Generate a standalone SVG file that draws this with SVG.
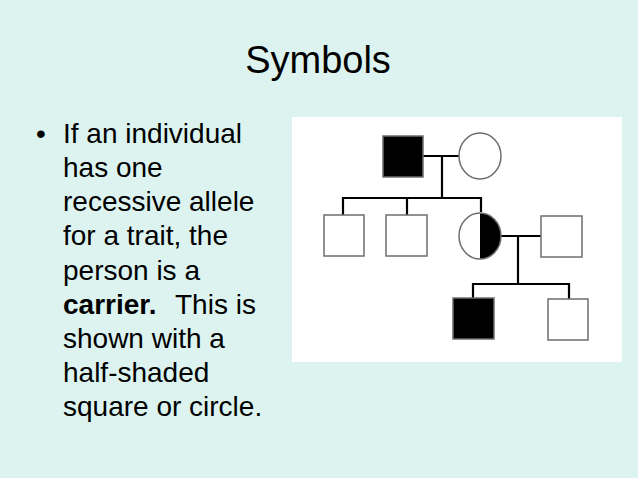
<svg xmlns="http://www.w3.org/2000/svg" width="638" height="478" viewBox="0 0 638 478">
<style>
.t{font-family:"Liberation Sans",Arial,sans-serif;fill:#000}
.body{font-size:28px}
.sym{stroke:#6e6e6e;stroke-width:1.5}
.con{stroke:#000;stroke-width:2.2;fill:none}
</style>
<rect x="0" y="0" width="638" height="478" fill="#dcf3f0"/>
<text class="t" x="318" y="73" font-size="38" text-anchor="middle">Symbols</text>
<g id="bullet-text">
<text class="t body" x="36" y="142.7">•</text>
<text class="t body" x="63" y="142.7">If an individual</text>
<text class="t body" x="63" y="176.9">has one</text>
<text class="t body" x="63" y="211.1">recessive allele</text>
<text class="t body" x="63" y="245.3">for a trait, the</text>
<text class="t body" x="63" y="279.5">person is a</text>
<text class="t body" x="63" y="313.7"><tspan font-weight="bold">carrier.</tspan><tspan x="175">This is</tspan></text>
<text class="t body" x="63" y="347.9">shown with a</text>
<text class="t body" x="63" y="382.1">half-shaded</text>
<text class="t body" x="63" y="416.3">square or circle.</text>
</g>
<rect x="292" y="117" width="330" height="245" fill="#fff"/>
<g id="connectors">
<path class="con" d="M423 156H459M442 156V198M343 198H481M343 197V215M407 197V215M481 197V212"/>
<path class="con" d="M501 236H541M518 236V284M473 284H569M473 283V298M569 283V299"/>
</g>
<g id="father"><rect class="sym" x="383" y="136" width="40" height="41" fill="#000"/></g>
<g id="mother"><ellipse class="sym" cx="480" cy="156" rx="21" ry="23" fill="#fff"/></g>
<g id="son1"><rect class="sym" x="324" y="215" width="40" height="41" fill="#fff"/></g>
<g id="son2"><rect class="sym" x="386" y="215" width="41" height="41" fill="#fff"/></g>
<g id="carrier">
<ellipse cx="480" cy="236" rx="21" ry="23" fill="#fff"/>
<path d="M480 213A21 23 0 0 1 480 259Z" fill="#000"/>
<ellipse class="sym" cx="480" cy="236" rx="21" ry="23" fill="none"/>
</g>
<g id="spouse"><rect class="sym" x="541" y="216" width="41" height="41" fill="#fff"/></g>
<g id="grandson1"><rect class="sym" x="453" y="298" width="41" height="41" fill="#000"/></g>
<g id="grandson2"><rect class="sym" x="548" y="299" width="40" height="41" fill="#fff"/></g>
</svg>
